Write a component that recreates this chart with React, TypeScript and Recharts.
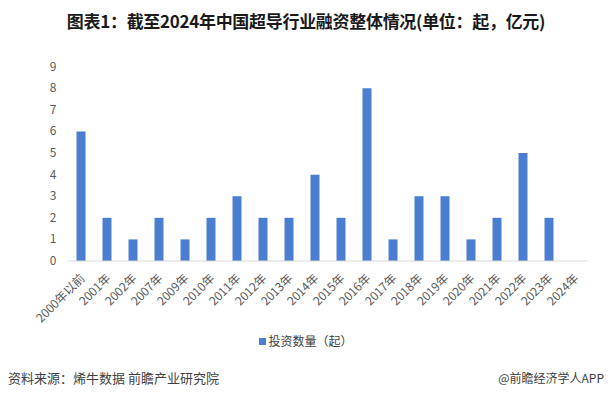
import React from "react";
import { BarChart, Bar, XAxis, YAxis } from "recharts";

const titleText = "图表1：截至2024年中国超导行业融资整体情况(单位：起，亿元)";
const categories = [
  "2000年以前", "2001年", "2002年", "2007年", "2009年", "2010年", "2011年",
  "2012年", "2013年", "2014年", "2015年", "2016年", "2017年", "2018年",
  "2019年", "2020年", "2021年", "2022年", "2023年", "2024年",
];
const investCounts = [6, 2, 1, 2, 1, 2, 3, 2, 2, 4, 2, 8, 1, 3, 3, 1, 2, 5, 2, 0];
const yTicks = [0, 1, 2, 3, 4, 5, 6, 7, 8, 9];
const seriesName = "投资数量（起）";
const sourceText = "资料来源：烯牛数据 前瞻产业研究院";
const brandText = "@前瞻经济学人APP";

const data = categories.map((c, i) => ({ name: c, value: investCounts[i] }));

const FONT = "'Noto Sans CJK SC', 'Noto Sans', sans-serif";
const BAR_COLOR = "#4a7ed0";

const XTick = (props: any) => {
  const { x, y, payload } = props;
  return (
    <g transform={`translate(${x + 5},${y + 10})`}>
      <text
        x={0}
        y={0}
        textAnchor="end"
        transform="rotate(-45)"
        fontSize={12}
        fill="#595959"
        fontFamily={FONT}
      >
        {payload.value}
      </text>
    </g>
  );
};

const YTick = (props: any) => {
  const { x, y, payload } = props;
  return (
    <text
      x={x}
      y={y}
      dx={-11}
      dy={4}
      textAnchor="end"
      fontSize={12}
      fill="#595959"
      fontFamily={FONT}
    >
      {payload.value}
    </text>
  );
};

export default function App() {
  return (
    <div
      style={{
        position: "absolute",
        left: 0,
        top: 0,
        width: 612,
        height: 398,
        background: "#ffffff",
        fontFamily: FONT,
        overflow: "hidden",
      }}
    >
      <div
        style={{
          position: "absolute",
          left: 0,
          top: 9,
          width: 612,
          textAlign: "center",
          fontSize: 17,
          fontWeight: 700,
          color: "#1a1a1a",
          lineHeight: "24px",
          letterSpacing: -0.3,
        }}
      >
        {titleText}
      </div>
      <div style={{ position: "absolute", left: 0, top: 0 }}>
        <BarChart
          width={612}
          height={398}
          data={data}
          margin={{ top: 66.7, right: 24.5, bottom: 57, left: 0 }}
          barSize={9}
        >
          <XAxis
            dataKey="name"
            interval={0}
            height={80}
            tickLine={false}
            axisLine={{ stroke: "#d9d9d9" }}
            tick={<XTick />}
          />
          <YAxis
            width={67.5}
            domain={[0, 9]}
            ticks={yTicks}
            interval={0}
            axisLine={false}
            tickLine={false}
            tickSize={0}
            tickMargin={0}
            tick={<YTick />}
          />
          <Bar dataKey="value" fill={BAR_COLOR} isAnimationActive={false} />
        </BarChart>
      </div>
      <div
        style={{
          position: "absolute",
          left: 0,
          top: 332,
          width: 612,
          textAlign: "center",
          fontSize: 12,
          color: "#404040",
          lineHeight: "18px",
        }}
      >
        <span
          style={{
            display: "inline-block",
            width: 7,
            height: 7,
            background: BAR_COLOR,
            marginRight: 2,
            verticalAlign: "middle",
            position: "relative",
            top: -1,
          }}
        />
        {seriesName}
      </div>
      <div
        style={{
          position: "absolute",
          left: 8,
          top: 369,
          fontSize: 13,
          color: "#404040",
          lineHeight: "18px",
        }}
      >
        {sourceText}
      </div>
      <div
        style={{
          position: "absolute",
          right: 8,
          top: 369,
          fontSize: 12,
          color: "#404040",
          lineHeight: "18px",
        }}
      >
        {brandText}
      </div>
    </div>
  );
}
